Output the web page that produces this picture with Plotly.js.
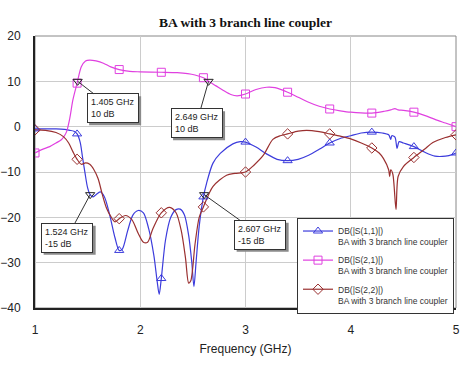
<!DOCTYPE html>
<html><head><meta charset="utf-8">
<script src="https://cdn.plot.ly/plotly-3.0.1.min.js"></script>
<style>html,body{margin:0;padding:0;background:#fff}#chart{width:474px;height:371px}</style>
</head><body><div id="chart"></div>
<script>
// ---- data ----
const title = "BA with 3 branch line coupler";
const seriesNames = ["DB(|S(1,1)|)", "DB(|S(2,1)|)", "DB(|S(2,2)|)"];

const freqS11 = [1.00,1.10,1.20,1.28,1.33,1.37,1.40,1.43,1.45,1.475,1.50,1.524,1.55,1.58,1.62,1.66,1.71,1.76,1.80,1.83,1.88,1.93,1.98,2.03,2.08,2.13,2.16,2.18,2.20,2.24,2.29,2.34,2.38,2.42,2.46,2.49,2.51,2.53,2.56,2.60,2.63,2.69,2.76,2.88,2.95,3.00,3.10,3.20,3.30,3.40,3.50,3.60,3.70,3.80,3.90,4.00,4.10,4.20,4.30,4.36,4.38,4.39,4.42,4.44,4.46,4.50,4.60,4.70,4.80,4.90,4.97,5.00];
const dbS11   = [-0.5,-0.5,-0.5,-0.6,-0.8,-1.0,-1.6,-3.5,-6.5,-10.2,-13.5,-15.0,-15.5,-15.0,-14.4,-15.5,-19.5,-24.5,-27.3,-27.0,-23.0,-19.5,-18.5,-19.0,-22.5,-28.5,-34.0,-37.0,-33.5,-25.0,-20.0,-18.3,-18.2,-19.5,-24.0,-30.0,-35.3,-30.0,-22.0,-15.5,-12.5,-8.1,-5.9,-3.8,-3.3,-3.4,-4.5,-6.0,-7.2,-7.5,-7.2,-6.3,-5.0,-3.6,-2.6,-2.0,-1.4,-1.2,-1.4,-1.8,-2.8,-2.0,-2.3,-4.8,-3.3,-3.6,-4.4,-5.6,-6.5,-6.5,-6.1,-5.8];

const freqS21 = [1.00,1.07,1.14,1.20,1.25,1.28,1.30,1.33,1.36,1.40,1.44,1.48,1.52,1.58,1.65,1.72,1.80,1.90,2.00,2.20,2.35,2.45,2.52,2.60,2.65,2.72,2.79,2.86,2.92,3.00,3.10,3.20,3.28,3.40,3.50,3.60,3.70,3.80,3.90,4.00,4.20,4.32,4.38,4.42,4.45,4.50,4.60,4.70,4.80,4.90,5.00];
const dbS21   = [-5.8,-5.0,-4.4,-3.6,-2.9,-2.0,-1.1,1.8,5.9,9.6,13.2,14.5,14.7,14.5,14.0,13.2,12.6,12.2,12.1,12.0,11.9,11.7,11.4,10.8,10.0,9.0,8.0,7.1,6.8,7.2,8.2,8.7,8.6,7.6,6.5,5.4,4.5,3.9,3.5,3.2,3.0,3.4,3.7,4.0,3.7,3.6,3.2,2.5,1.6,0.8,0.0];

const freqS22 = [1.00,1.10,1.20,1.27,1.32,1.36,1.40,1.44,1.48,1.52,1.56,1.60,1.64,1.68,1.72,1.76,1.80,1.86,1.92,1.98,2.03,2.07,2.12,2.20,2.28,2.34,2.39,2.43,2.46,2.48,2.52,2.56,2.60,2.69,2.82,2.90,3.00,3.08,3.17,3.26,3.33,3.40,3.50,3.58,3.70,3.80,3.90,4.00,4.10,4.20,4.27,4.31,4.36,4.37,4.38,4.40,4.43,4.45,4.50,4.60,4.70,4.78,4.90,5.00];
const dbS22   = [-0.7,-0.8,-1.3,-2.2,-3.6,-5.5,-7.2,-8.3,-8.0,-8.3,-9.5,-11.5,-15.0,-18.0,-19.8,-21.0,-20.3,-19.6,-20.5,-23.5,-25.5,-25.5,-22.5,-19.0,-17.8,-19.0,-23.0,-29.0,-34.5,-34.0,-26.0,-20.0,-17.7,-13.2,-10.7,-10.3,-10.0,-8.5,-6.3,-2.8,-2.0,-1.6,-1.0,-0.8,-1.1,-1.6,-2.1,-2.7,-3.6,-4.7,-5.8,-7.0,-9.5,-11.0,-9.5,-10.5,-18.3,-11.0,-8.8,-6.8,-5.0,-3.5,-2.4,-1.8];

const markerFreq = [1.405, 2.649, 1.524, 2.607];
const markerDb   = [10, 10, -15, -15];

const xTickVals = [1,2,3,4,5];
const yTickVals = [-40,-30,-20,-10,0,10,20];

// ---- styles ----
const colors = ["#3c3cdc", "#e040e0", "#9a3030"];
const symbols = ["triangle-up-open", "square-open", "diamond-open"];
const markerStep = 0.4;
const FONT = "Arial, Liberation Sans, sans-serif";

function markerPoints(fx, fy) {
  const x = [], y = [];
  fx.forEach((f, i) => {
    const k = (f - 1) / markerStep;
    if (Math.abs(k - Math.round(k)) < 1e-6) { x.push(f, null); y.push(fy[i], null); }
  });
  return {x, y};
}

const series = [[freqS11, dbS11], [freqS21, dbS21], [freqS22, dbS22]];
const traces = [];
series.forEach(([fx, fy], i) => {
  traces.push({
    x: fx, y: fy, type: "scatter", mode: "lines",
    line: {color: colors[i], width: 1.2, shape: "spline", smoothing: 0.8},
    showlegend: false, hoverinfo: "skip", legendgroup: "g" + i
  });
});
series.forEach(([fx, fy], i) => {
  const m = markerPoints(fx, fy);
  traces.push({
    x: m.x, y: m.y, type: "scatter", mode: "lines+markers", connectgaps: false,
    name: seriesNames[i] + "<br>" + title,
    line: {color: colors[i], width: 1.2},
    marker: {symbol: symbols[i], size: 8, color: colors[i], line: {width: 1, color: colors[i]}},
    legendgroup: "g" + i
  });
});
traces.push({
  x: markerFreq, y: markerDb, type: "scatter", mode: "markers", showlegend: false,
  marker: {symbol: "triangle-down-open", size: 8, color: "#222", line: {width: 1, color: "#222"}}
});

const offsets = [[35, 27], [-12, 42], [-23, 43], [56, 40]];
const boxHalfW = 26, boxHalfH = 14.5, shadowOff = 2.5;
const annotations = markerFreq.map((f, i) => ({
  x: f, y: markerDb[i], xref: "x", yref: "y",
  text: f.toFixed(3) + " GHz<br>" + markerDb[i] + " dB",
  showarrow: true, arrowhead: 0, arrowwidth: 1, arrowcolor: "#333",
  ax: offsets[i][0], ay: offsets[i][1], standoff: 0,
  align: "left", bgcolor: "#fff", bordercolor: "#333", borderwidth: 1, borderpad: 3,
  font: {family: FONT, size: 9, color: "#222"}
}));

// drop shadows behind marker boxes (pixel-sized, anchored at marker points)
const shapes = [{type: "rect", xref: "paper", yref: "paper", x0: 0, x1: 1, y0: 0, y1: 1,
                 line: {color: "#888", width: 1}, fillcolor: "rgba(0,0,0,0)", layer: "below"}];
markerFreq.forEach((f, i) => {
  const cx = offsets[i][0] + shadowOff, cy = -(offsets[i][1] + shadowOff);
  shapes.push({type: "rect", xref: "x", yref: "y", xsizemode: "pixel", ysizemode: "pixel",
               xanchor: f, yanchor: markerDb[i],
               x0: cx - boxHalfW, x1: cx + boxHalfW, y0: cy - boxHalfH, y1: cy + boxHalfH,
               fillcolor: "#8a8a8a", line: {width: 0}, layer: "above"});
});
// legend shadow
const px2x = p => (p - 35) / 421, px2y = p => (308 - p) / 272;
shapes.push({type: "rect", xref: "paper", yref: "paper",
             x0: px2x(300), x1: px2x(452), y0: px2y(314), y1: px2y(221),
             fillcolor: "#666", line: {width: 0}, layer: "above"});

const layout = {
  width: 474, height: 371,
  margin: {l: 35, r: 18, t: 36, b: 63, autoexpand: false},
  paper_bgcolor: "#fff", plot_bgcolor: "#fff",
  title: {text: "<b>" + title + "</b>", x: 0.5, xref: "paper", y: 0.94, yanchor: "middle",
          font: {family: "Times New Roman, Liberation Serif, serif", size: 13.5, color: "#111"}},
  xaxis: {range: [1, 5], tickvals: xTickVals, showgrid: true, gridcolor: "#cccccc", gridwidth: 1,
          zeroline: false, showline: true, linecolor: "#222", linewidth: 2, mirror: false,
          ticks: "", ticklabelstandoff: 10,
          tickfont: {family: FONT, size: 12, color: "#222"},
          title: {text: "Frequency (GHz)", standoff: 8, font: {family: FONT, size: 12, color: "#222"}}},
  yaxis: {range: [-40, 20], tickvals: yTickVals, showgrid: true, gridcolor: "#cccccc", gridwidth: 1,
          zeroline: false, showline: true, linecolor: "#222", linewidth: 2, mirror: false,
          ticks: "", ticklabelstandoff: 10,
          tickfont: {family: FONT, size: 12, color: "#222"}},
  shapes: shapes,
  legend: {x: px2x(297), y: px2y(218), xanchor: "left", yanchor: "top", bgcolor: "#fff",
           bordercolor: "#333", borderwidth: 1, valign: "top", tracegroupgap: 4,
           font: {family: FONT, size: 8.5, color: "#333"}},
  annotations: annotations,
  showlegend: true
};

Plotly.newPlot("chart", traces, layout, {displayModeBar: false, staticPlot: true});
</script></body></html>
